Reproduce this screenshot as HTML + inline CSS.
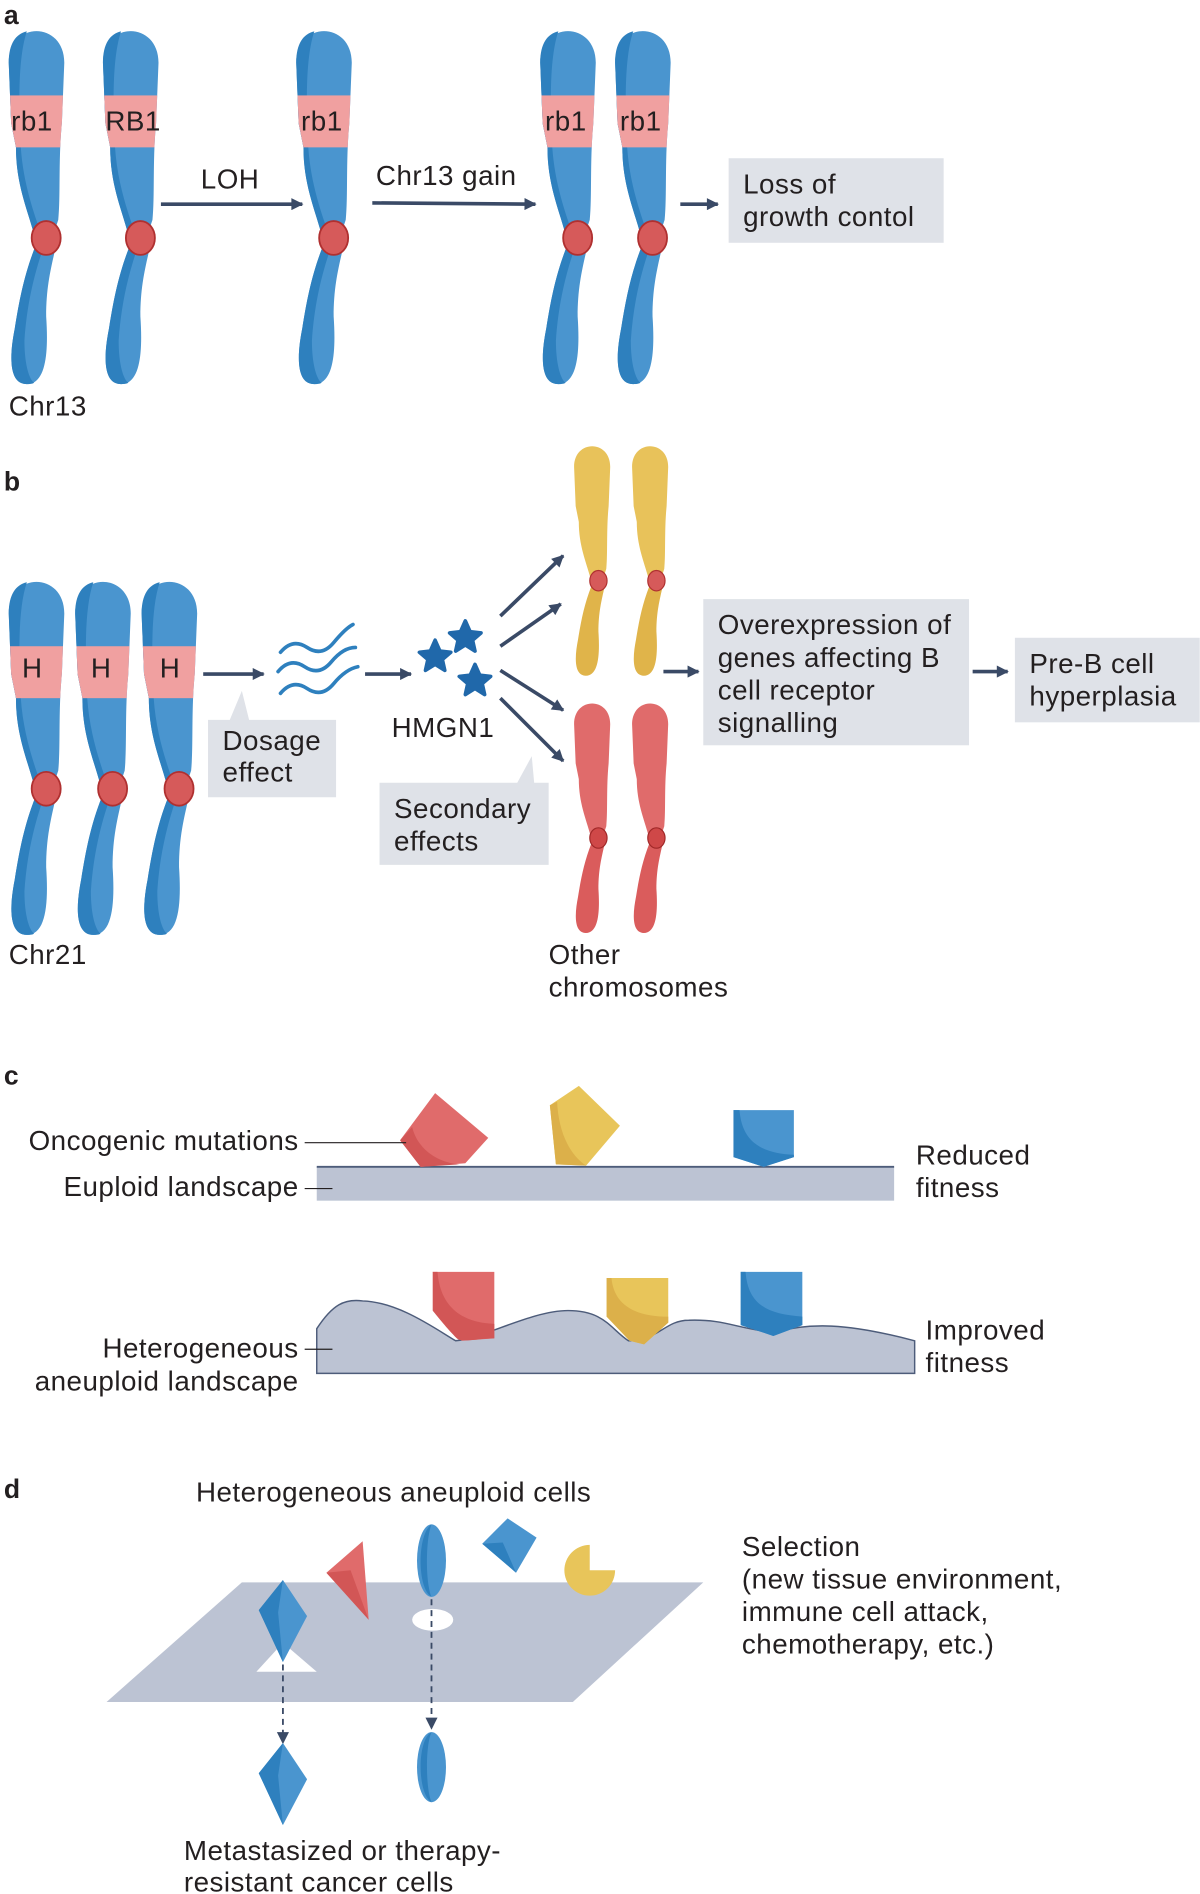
<!DOCTYPE html>
<html><head><meta charset="utf-8"><style>
html,body{margin:0;padding:0;background:#fff}
svg{display:block}
text{font-family:"Liberation Sans",sans-serif;fill:#231f20;font-size:23px;letter-spacing:0.4px}
.b{font-weight:bold;font-size:22px}
.e{text-anchor:end}
</style></head><body>
<svg width="1200" height="1894" viewBox="0 0 993 1568" xmlns="http://www.w3.org/2000/svg">
<defs>
<marker id="ar" viewBox="0 0 10 10" refX="9" refY="5" markerUnits="userSpaceOnUse" markerWidth="12" markerHeight="10" orient="auto"><path d="M0,0 L10,5 L0,10 z" fill="#3a4a66"/></marker>
<clipPath id="tc"><path d="M-23,30 C-23,-5 23,-5 23,30 L21,80 C18,110 20,140 18,160 L14,172 L-2,172 C-8,150 -17,130 -17,100 L-21,80 Z"/></clipPath>
<g id="cb">
<path d="M-23,30 C-23,-5 23,-5 23,30 L21,80 C18,110 20,140 18,160 L14,172 L-2,172 C-8,150 -17,130 -17,100 L-21,80 Z" fill="#4a95cf"/>
<path d="M-23,30 C-23,14 -17,6 -8,4 C-15,25 -15,60 -13,100 C-11,130 -2,155 4,172 L-2,172 C-8,150 -17,130 -17,100 L-21,80 Z" fill="#2e80be"/>
<path d="M-1,182 L16,182 C12,200 8,215 8,240 C10,270 8,296 -8,296 C-24,296 -22,270 -18,250 C-14,225 -10,205 -1,182 Z" fill="#4a95cf"/>
<path d="M-1,182 L6,182 C-2,205 -8,230 -10,260 C-10,280 -6,292 -2,295 C-4,296 -6,296 -8,296 C-24,296 -22,270 -18,250 C-14,225 -10,205 -1,182 Z" fill="#2e80be"/>
</g>
<g id="cbH"><use href="#cb"/><rect x="-25" y="57" width="50" height="43" fill="#f0a0a0" clip-path="url(#tc)"/><ellipse cx="8" cy="175" rx="12" ry="14" fill="#d65a5a" stroke="#b03030" stroke-width="1.5"/></g>
<g id="cy">
<path d="M-23,30 C-23,-5 23,-5 23,30 L21,80 C18,110 20,140 18,160 L14,172 L-2,172 C-8,150 -17,130 -17,100 L-21,80 Z" fill="#e8c25a"/>
<path d="M-1,182 L16,182 C12,200 8,215 8,240 C10,270 8,296 -8,296 C-24,296 -22,270 -18,250 C-14,225 -10,205 -1,182 Z" fill="#e0b44a"/>
<ellipse cx="8" cy="175" rx="11" ry="13" fill="#d65a5a" stroke="#b03030" stroke-width="1.5"/></g>
<g id="cr">
<path d="M-23,30 C-23,-5 23,-5 23,30 L21,80 C18,110 20,140 18,160 L14,172 L-2,172 C-8,150 -17,130 -17,100 L-21,80 Z" fill="#e06b6b"/>
<path d="M-1,182 L16,182 C12,200 8,215 8,240 C10,270 8,296 -8,296 C-24,296 -22,270 -18,250 C-14,225 -10,205 -1,182 Z" fill="#da5c5c"/>
<ellipse cx="8" cy="175" rx="11" ry="13" fill="#cf4848" stroke="#a02828" stroke-width="1.5"/></g>
</defs>

<!-- panel a -->
<text x="3" y="20" class="b">a</text>
<use href="#cbH" transform="translate(30,22)"/>
<use href="#cbH" transform="translate(108,22)"/>
<use href="#cbH" transform="translate(268,22)"/>
<use href="#cbH" transform="translate(470,22)"/>
<use href="#cbH" transform="translate(532,22)"/>
<text x="9" y="108">rb1</text><text x="87" y="108">RB1</text><text x="249" y="108">rb1</text><text x="451" y="108">rb1</text><text x="513" y="108">rb1</text>
<text x="7" y="344">Chr13</text>
<line x1="133" y1="169" x2="250" y2="169" stroke="#3a4a66" stroke-width="3" marker-end="url(#ar)"/>
<text x="166" y="156">LOH</text>
<line x1="308" y1="168" x2="443" y2="169" stroke="#3a4a66" stroke-width="3" marker-end="url(#ar)"/>
<text x="311" y="153">Chr13 gain</text>
<line x1="563" y1="169" x2="594" y2="169" stroke="#3a4a66" stroke-width="3" marker-end="url(#ar)"/>
<rect x="603" y="131" width="178" height="70" fill="#dfe2e8"/>
<text x="615" y="160">Loss of</text><text x="615" y="187">growth contol</text>

<!-- panel b -->
<text x="3" y="406" class="b">b</text>
<use href="#cbH" transform="translate(30,478)"/>
<use href="#cbH" transform="translate(85,478)"/>
<use href="#cbH" transform="translate(140,478)"/>
<text x="18" y="561">H</text><text x="75" y="561">H</text><text x="132" y="561">H</text>
<text x="7" y="798">Chr21</text>
<line x1="168" y1="558" x2="218" y2="558" stroke="#3a4a66" stroke-width="3" marker-end="url(#ar)"/>
<g fill="none" stroke="#2e80be" stroke-width="3" stroke-linecap="round">
<path d="M232,540 q10,-12 22,-4 t22,-4 t16,-15"/>
<path d="M230,556 q10,-12 22,-4 t22,-4 t20,-12"/>
<path d="M232,574 q10,-12 22,-4 t22,-4 t20,-14"/>
</g>
<line x1="302" y1="558" x2="340" y2="558" stroke="#3a4a66" stroke-width="3" marker-end="url(#ar)"/>
<g fill="#2068aa" stroke="#2068aa" stroke-width="3" stroke-linejoin="round">
<path d="M356,539 l4,-9 4,9 9,1 -7,6 2,9 -8,-5 -8,5 2,-9 -7,-6z"/>
<path d="M381,523 l4,-9 4,9 9,1 -7,6 2,9 -8,-5 -8,5 2,-9 -7,-6z"/>
<path d="M389,559 l4,-9 4,9 9,1 -7,6 2,9 -8,-5 -8,5 2,-9 -7,-6z"/>
</g>
<text x="324" y="610">HMGN1</text>
<path d="M172,596 L190,596 L200,572 L206,596 L278,596 L278,660 L172,660 Z" fill="#dfe2e8"/>
<text x="184" y="621">Dosage</text><text x="184" y="647">effect</text>
<path d="M314,648 L428,648 L440,626 L442,648 L454,648 L454,716 L314,716 Z" fill="#dfe2e8"/>
<text x="326" y="677">Secondary</text><text x="326" y="704">effects</text>
<g stroke="#3a4a66" stroke-width="3" marker-end="url(#ar)">
<line x1="414" y1="510" x2="466" y2="460"/>
<line x1="414" y1="535" x2="464" y2="500"/>
<line x1="414" y1="555" x2="466" y2="588"/>
<line x1="414" y1="578" x2="466" y2="630"/>
</g>
<use href="#cy" transform="translate(490,367) scale(0.65)"/>
<use href="#cy" transform="translate(538,367) scale(0.65)"/>
<use href="#cr" transform="translate(490,580) scale(0.65)"/>
<use href="#cr" transform="translate(538,580) scale(0.65)"/>
<text x="454" y="798">Other</text><text x="454" y="825">chromosomes</text>
<line x1="549" y1="556" x2="578" y2="556" stroke="#3a4a66" stroke-width="3" marker-end="url(#ar)"/>
<rect x="582" y="496" width="220" height="121" fill="#dfe2e8"/>
<text x="594" y="525">Overexpression of</text><text x="594" y="552">genes affecting B</text><text x="594" y="579">cell receptor</text><text x="594" y="606">signalling</text>
<line x1="805" y1="556" x2="834" y2="556" stroke="#3a4a66" stroke-width="3" marker-end="url(#ar)"/>
<rect x="840" y="528" width="153" height="70" fill="#dfe2e8"/>
<text x="852" y="557">Pre-B cell</text><text x="852" y="584">hyperplasia</text>

<!-- panel c -->
<text x="3" y="898" class="b">c</text>
<rect x="262" y="966" width="478" height="28" fill="#bcc3d3"/>
<line x1="262" y1="966" x2="740" y2="966" stroke="#4d5c7a" stroke-width="1.5"/>
<path d="M331,944 L360,905 L404,942 L385,963 L348,966 Z" fill="#e06b6b"/>
<path d="M331,944 L341,933 C345,950 360,962 380,964 L348,966 Z" fill="#d25656"/>
<path d="M455,915 L479,899 L513,932 L485,965 L460,964 Z" fill="#e8c55a"/>
<path d="M455,915 L461,912 C462,935 470,955 485,965 L460,964 Z" fill="#dcb04a"/>
<path d="M607,919 L657,919 L657,958 L632,966 L607,958 Z" fill="#4a95cf"/>
<path d="M607,919 L612,919 C614,945 630,955 657,956 L657,958 L632,966 L607,958 Z" fill="#2e80be"/>
<text x="247" y="952" class="e">Oncogenic mutations</text>
<line x1="252" y1="946" x2="336" y2="946" stroke="#231f20" stroke-width="1"/>
<text x="247" y="990" class="e">Euploid landscape</text>
<line x1="252" y1="984" x2="275" y2="984" stroke="#231f20" stroke-width="1"/>
<text x="758" y="964">Reduced</text><text x="758" y="991">fitness</text>

<path d="M262,1100 C275,1080 285,1075 300,1077 C330,1078 360,1100 377,1110 C400,1108 440,1085 470,1085 C500,1085 505,1100 520,1110 C545,1110 550,1093 570,1093 C600,1092 610,1100 640,1103 C670,1095 700,1095 757,1110 L757,1137 L262,1137 Z" fill="#bcc3d3" stroke="#4d5c7a" stroke-width="1.2"/>
<path d="M358,1053 L409,1053 L409,1108 L382,1110 Z" fill="#e06b6b"/>
<path d="M358,1053 L362,1053 C364,1080 380,1095 409,1096 L409,1108 C395,1108 382,1112 378,1108 C370,1100 362,1090 358,1085 Z" fill="#d25656"/>
<path d="M502,1058 L553,1058 L553,1095 L533,1113 L521,1110 L502,1090 Z" fill="#e8c55a"/>
<path d="M502,1058 L506,1058 C508,1080 525,1090 553,1090 L553,1095 L533,1113 L521,1110 L502,1090 Z" fill="#dcb04a"/>
<path d="M613,1053 L664,1053 L664,1097 L640,1106 L613,1097 Z" fill="#4a95cf"/>
<path d="M613,1053 L617,1053 C619,1080 635,1088 664,1090 L664,1097 L640,1106 L613,1097 Z" fill="#2e80be"/>
<text x="247" y="1124" class="e">Heterogeneous</text>
<line x1="252" y1="1117" x2="275" y2="1117" stroke="#231f20" stroke-width="1"/>
<text x="247" y="1151" class="e">aneuploid landscape</text>
<text x="766" y="1109">Improved</text><text x="766" y="1136">fitness</text>

<!-- panel d -->
<text x="3" y="1240" class="b">d</text>
<text x="162" y="1243">Heterogeneous aneuploid cells</text>
<path d="M200,1310 L582,1310 L474,1409 L88,1409 Z" fill="#bcc3d3"/>
<path d="M212,1384 L262,1384 L234,1360 Z" fill="#fff"/>
<ellipse cx="358" cy="1341" rx="17" ry="9" fill="#fff"/>
<path d="M234,1308 L254,1338 L234,1376 L214,1333 Z" fill="#4a95cf"/>
<path d="M234,1308 L214,1333 L234,1376 L230,1335 Z" fill="#2e80be"/>
<path d="M270,1302 L300,1276 L305,1341 Z" fill="#e06b6b"/>
<path d="M270,1302 L305,1341 L290,1300 Z" fill="#d25656"/>
<ellipse cx="357" cy="1292" rx="12" ry="30" fill="#4a95cf"/>
<path d="M357,1262 C345,1270 345,1315 357,1322 C352,1310 352,1275 357,1262 Z" fill="#2e80be"/>
<path d="M399,1278 L420,1257 L444,1273 L427,1302 Z" fill="#4a95cf"/>
<path d="M399,1278 L427,1302 L416,1277 Z" fill="#2e80be"/>
<path d="M488,1300 L509,1300 A21,21 0 1 1 488,1279 Z" fill="#e8c55a"/>
<line x1="234" y1="1378" x2="234" y2="1440" stroke="#3a4a66" stroke-width="1.5" stroke-dasharray="5,4"/>
<path d="M229,1434 L234,1444 L239,1434" fill="#3a4a66"/>
<line x1="357" y1="1324" x2="357" y2="1428" stroke="#3a4a66" stroke-width="1.5" stroke-dasharray="5,4"/>
<path d="M352,1422 L357,1432 L362,1422" fill="#3a4a66"/>
<path d="M234,1443 L254,1473 L234,1511 L214,1468 Z" fill="#4a95cf"/>
<path d="M234,1443 L214,1468 L234,1511 L230,1470 Z" fill="#2e80be"/>
<ellipse cx="357" cy="1463" rx="12" ry="29" fill="#4a95cf"/>
<path d="M357,1434 C345,1440 345,1485 357,1492 C352,1480 352,1445 357,1434 Z" fill="#2e80be"/>
<text x="614" y="1288">Selection</text>
<text x="614" y="1315">(new tissue environment,</text>
<text x="614" y="1342">immune cell attack,</text>
<text x="614" y="1369">chemotherapy, etc.)</text>
<text x="152" y="1540">Metastasized or therapy-</text>
<text x="152" y="1566">resistant cancer cells</text>
</svg>
</body></html>
